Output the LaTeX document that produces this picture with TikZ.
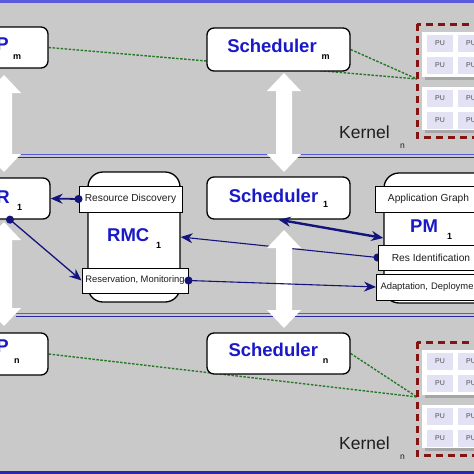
\documentclass[tikz,border=0pt]{standalone}
\usepackage{fontspec}
\setmainfont{Liberation Sans}
\usetikzlibrary{arrows.meta}
\usetikzlibrary{calc}

\definecolor{bggray}{RGB}{201,201,201}
\definecolor{railblue}{RGB}{90,90,220}
\definecolor{raildark}{RGB}{40,40,175}
\definecolor{tblue}{RGB}{25,25,200}
\definecolor{navyc}{RGB}{20,20,125}
\definecolor{dotgreen}{RGB}{40,120,40}
\definecolor{kred}{RGB}{130,20,20}
\definecolor{pucol}{RGB}{226,226,244}
\definecolor{txtdark}{RGB}{30,30,30}

\pgfdeclarelayer{back}
\pgfdeclarelayer{mid}
\pgfsetlayers{back,mid,main}

\newcommand{\bigfont}{\fontsize{18.5}{20}\selectfont\bfseries}
\newcommand{\subfont}{\fontsize{9}{10}\selectfont\bfseries}
\newcommand{\boxfont}{\fontsize{10.2}{12}\selectfont}
\newcommand{\smallfont}{\fontsize{9.4}{11}\selectfont}
\newcommand{\fatarrow}[3]{\fill[white] (#1,#2) -- ++(17,18) -- ++(-9,0) -- (#1+8,#3-18) -- ++(9,0) -- (#1,#3) -- ++(-17,-18) -- ++(9,0) -- (#1-8,#2+18) -- ++(-9,0) -- cycle;}

\tikzset{
  schedbox/.style={draw, line width=1.3pt, rounded corners=7pt, fill=white, minimum width=143pt, minimum height=42pt, inner sep=0pt, text=tblue},
  leftbox/.style={draw, line width=1.3pt, rounded corners=7pt, fill=white, minimum width=78pt, minimum height=41pt},
  modbox/.style={draw, line width=1.3pt, rounded corners=15pt, fill=white, minimum width=92pt, minimum height=130pt},
  subbox/.style={draw, line width=1pt, fill=white, minimum height=26pt, inner sep=2pt, text=txtdark, font=\boxfont},
  bigtxt/.style={inner sep=0pt, text=tblue, font=\bigfont},
  subtxt/.style={inner sep=0pt, text=black, font=\subfont},
  pucell/.style={fill=pucol, minimum width=26pt, minimum height=17pt, inner sep=0pt, text=black!70, font=\fontsize{7}{8}\selectfont},
  kframe/.style={draw=kred, line width=3pt, dash pattern=on 7pt off 5pt},
  greendot/.style={dotgreen, line width=1.4pt, dash pattern=on 2.5pt off 1.5pt},
  navyline/.style={navyc},
  dotarrow/.style={navyc, {Circle[length=8pt]}-{Stealth[length=12pt,width=10pt]}, shorten <=-4pt}
}

\begin{document}
\begin{tikzpicture}[x=1pt,y=-1pt]
\useasboundingbox (0,0) rectangle (474,474);
\clip (0,0) rectangle (474,474);

% ground and rails
\begin{pgfonlayer}{back}
\fill[bggray] (0,0) rectangle (474,474);
\fill[railblue] (0,0) rectangle (474,2.5);
\fill[raildark] (0,471) rectangle (474,474);
\foreach \ry in {154,313} {
  \draw[line width=1pt, railblue] (16,\ry) -- (474,\ry);
  \draw[line width=1.6pt, raildark] (16,\ry+3.5) -- (474,\ry+3.5);
}
\end{pgfonlayer}

% left column
\node[leftbox] (pm) at (9,47.5) {};
\node[bigtxt, anchor=base east] (pmtxt) at (9,50) {P};
\node[subtxt, anchor=base west] (pmsub) at (13,59) {m};
\node[leftbox, minimum width=80pt] (r1) at (10,198.5) {};
\node[bigtxt, anchor=base east] (r1txt) at (10,203) {R};
\node[subtxt, anchor=base west] (r1sub) at (17,210) {1};
\node[leftbox, minimum height=42pt] (pn) at (9,354) {};
\node[bigtxt, anchor=base east] (pntxt) at (9,352) {P};
\node[subtxt, anchor=base west] (pnsub) at (14,363) {n};

% schedulers
\node[schedbox, minimum height=43pt] (schedm) at (278.5,49.5) {\bigfont Scheduler\hspace{5pt}\raisebox{-7pt}{\subfont\color{black}m}};
\node[schedbox] (sched1) at (278.5,198) {\bigfont Scheduler\hspace{5pt}\raisebox{-5pt}{\subfont\color{black}1}};
\node[schedbox, minimum height=41pt] (schedn) at (278.5,353.5) {\bigfont Scheduler\hspace{5pt}\raisebox{-7pt}{\subfont\color{black}n}};

% RMC module
\node[modbox] (rmc) at (134,237) {};
\node[subbox, minimum width=103pt] (rd) at (130.5,199) {Resource Discovery};
\node[subbox, minimum width=106pt, minimum height=25pt, font=\smallfont] (resmon) at (135,280.5) {Reservation, Monitoring};
\node[bigtxt, anchor=base west] (rmctxt) at (107,241) {RMC};
\node[subtxt, anchor=base west] (rmcsub) at (156,248) {1};

% PM module
\node[modbox, minimum width=130pt] (pmod) at (449,238) {};
\node[subbox, minimum width=107pt] (appg) at (428.5,199) {Application Graph};
\node[subbox, minimum width=106pt, minimum height=25pt] (resid) at (431,257.5) {Res Identification};
\node[subbox, text width=101pt, align=left, inner sep=4pt, anchor=west, font=\smallfont] (adapt) at (376,287) {Adaptation, Deployme};
\node[bigtxt, anchor=base west] (pmodtxt) at (410,232) {PM};
\node[subtxt, anchor=base west] (pmodsub) at (447,239) {1};

% kernels
\foreach \dy/\kn in {0/ktop,318/kbot} {
\begin{scope}[shift={(0,\dy)}]
\fill[gray!70] (425,35) rectangle (495,80);
\fill[white] (422,32) rectangle (492,77);
\fill[gray!70] (425,90) rectangle (495,133);
\fill[white] (422,87) rectangle (492,130);
\foreach \py in {35,57,90,112}
  \foreach \px in {427,458}
    \node[pucell] (pu\kn\px\py) at (\px+13,\py+8.5) {PU};
\draw[kframe] (417,24) rectangle (498,137);
\coordinate (\kn) at (417,79);
\end{scope}
}
\node[anchor=base west, inner sep=0pt, text=txtdark, font=\fontsize{17.5}{19}\selectfont] (kerntop) at (339,138) {Kernel};
\node[anchor=base west, inner sep=0pt, text=txtdark, font=\fontsize{8.5}{9}\selectfont] (kernsubtop) at (400,148) {n};
\node[anchor=base west, inner sep=0pt, text=txtdark, font=\fontsize{17.5}{19}\selectfont] (kernbot) at (339,449) {Kernel};
\node[anchor=base west, inner sep=0pt, text=txtdark, font=\fontsize{8.5}{9}\selectfont] (kernsubbot) at (400,459) {n};

% links under the big arrows
\begin{pgfonlayer}{mid}
\draw[greendot] (pm.east) -- (ktop);
\draw[greendot] (schedm.east) -- (ktop);
\draw[greendot] (pn.east) -- (kbot);
\draw[greendot] (schedn.east) -- (kbot);
\draw[dotarrow, line width=1.1pt] (resid.west) -- (rmc.east);
\fatarrow{4}{75}{172}
\fatarrow{4}{222}{326}
\fatarrow{284}{73}{172}
\fatarrow{284}{230}{328}
\end{pgfonlayer}

% links on top
\draw[dotarrow, line width=1.8pt] (rd.west) -- (r1.east);
\draw[dotarrow, line width=1.3pt] (r1.south) -- (resmon.west);
\draw[dotarrow, line width=1.1pt] (resmon.east) -- (adapt.west);
\draw[navyline, line width=2.4pt, {Stealth[length=12pt,width=10pt]}-{Stealth[length=12pt,width=10pt]}] (sched1.south) -- (pmod.west);
\end{tikzpicture}
\end{document}
